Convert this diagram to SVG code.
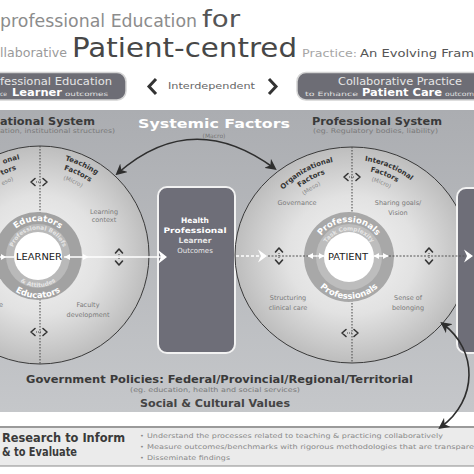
<svg xmlns="http://www.w3.org/2000/svg" width="474" height="474" viewBox="0 0 474 474">
<style>
text{font-family:"DejaVu Sans","Liberation Sans",sans-serif}
.b{font-weight:bold}
.chev{fill:none;stroke:#333;stroke-width:1.6;stroke-linecap:round;stroke-linejoin:round}
.dotl{fill:none;stroke:#444;stroke-width:1;stroke-dasharray:1 1}
.lbl{font-size:6.5px;fill:#7a7a7a;text-anchor:middle}
.fac{font-size:7px;font-weight:bold;fill:#333}
.mic{font-size:5.8px;fill:#8a8a8a}
.ring1{font-size:8.5px;font-weight:bold;fill:#fff}
.ring2{font-size:5.8px;font-weight:bold;fill:#e6e6e6}
.wh{fill:#fff}
.pill{fill:#6d6d75;stroke:#d4d4d4;stroke-width:1.5}
.box{fill:#6e6e78;stroke:#f2f2f2;stroke-width:2}
.bul{font-size:6.5px;fill:#8a8a8a}
.arr{fill:none;stroke:#2e2e2e;stroke-width:1.6}
</style>
<defs>
<linearGradient id="panelG" x1="0" y1="0" x2="0" y2="1">
<stop offset="0" stop-color="#abadb1"/><stop offset="1" stop-color="#c5c7ca"/>
</linearGradient>
<radialGradient id="circG" cx="0.5" cy="0.5" r="0.5">
<stop offset="0" stop-color="#f4f4f4"/><stop offset="0.55" stop-color="#e2e2e2"/><stop offset="1" stop-color="#bdbdbd"/>
</radialGradient>
<marker id="ah" viewBox="0 0 10 10" refX="7" refY="5" markerWidth="7" markerHeight="7" orient="auto-start-reverse" markerUnits="strokeWidth">
<path d="M0,0 L10,5 L0,10 L3,5 z" fill="#2e2e2e"/>
</marker>
<g id="dh"><path class="chev" d="M-4,-3.5 L-8,0 L-4,3.5 M4,-3.5 L8,0 L4,3.5"/><path class="dotl" d="M-3,0 H3"/></g>
<g id="dv"><path class="chev" d="M-3.5,-4 L0,-8 L3.5,-4 M-3.5,4 L0,8 L3.5,4"/><path class="dotl" d="M0,-3 V3"/></g>
<path id="L97" d="M -58,255 A 98 98 0 0 1 138,255"/>
<path id="L88" d="M -48.5,255 A 88.5 88.5 0 0 1 128.5,255"/>
<path id="L78" d="M -39,255 A 79 79 0 0 1 119,255"/>
<path id="R94" d="M 257,255 A 95 95 0 0 1 447,255"/>
<path id="R87" d="M 266.5,255 A 85.5 85.5 0 0 1 437.5,255"/>
<path id="R78" d="M 275.5,255 A 76.5 76.5 0 0 1 428.5,255"/>
<path id="LT35" d="M 3,256 A 35 35 0 0 1 73,256"/>
<path id="LB42" d="M -4,256 A 42 42 0 0 0 80,256"/>
<path id="LT26" d="M 11.5,256 A 26.5 26.5 0 0 1 64.5,256"/>
<path id="LB31" d="M 7,256 A 31 31 0 0 0 69,256"/>
<path id="RT35" d="M 314,257 A 35 35 0 0 1 384,257"/>
<path id="RB42" d="M 307,257 A 42 42 0 0 0 391,257"/>
<path id="RT26" d="M 322.5,257 A 26.5 26.5 0 0 1 375.5,257"/>
</defs>

<rect x="0" y="0" width="474" height="474" fill="#fff"/>

<g id="title">
<text x="0" y="27" font-size="17" fill="#8c8c8c" textLength="197" lengthAdjust="spacingAndGlyphs">professional Education</text>
<text x="202" y="27" font-size="23" fill="#555" textLength="38" lengthAdjust="spacingAndGlyphs">for</text>
<text x="0" y="57" font-size="12" fill="#9a9a9a" textLength="67" lengthAdjust="spacingAndGlyphs">llaborative</text>
<text x="72" y="57" font-size="27" fill="#474747" textLength="225" lengthAdjust="spacingAndGlyphs">Patient-centred</text>
<text x="302" y="57" font-size="11" fill="#a6a6a6" textLength="55" lengthAdjust="spacingAndGlyphs">Practice:</text>
<text x="360" y="57" font-size="11" fill="#555" textLength="114" lengthAdjust="spacingAndGlyphs">An Evolving Fram</text>
</g>

<g id="header-left">
<rect class="pill" x="-20" y="72.5" width="146" height="27.5" rx="9"/>
<text x="0" y="85" font-size="10" fill="#e6e6e6" textLength="112" lengthAdjust="spacingAndGlyphs">fessional Education</text>
<text x="0" y="96" font-size="6" fill="#e0e0e0">ce</text>
<text x="12" y="96" font-size="10" class="b" fill="#fff" textLength="50" lengthAdjust="spacingAndGlyphs">Learner</text>
<text x="65" y="96" font-size="6" fill="#e0e0e0" textLength="43" lengthAdjust="spacingAndGlyphs">outcomes</text>
</g>

<g id="header-mid">
<path d="M156,79 L149,86.5 L156,94" fill="none" stroke="#333" stroke-width="3"/>
<text x="168" y="89" font-size="9.5" fill="#666" textLength="87" lengthAdjust="spacingAndGlyphs">Interdependent</text>
<path d="M269,79 L276,86.5 L269,94" fill="none" stroke="#333" stroke-width="3"/>
</g>

<g id="header-right">
<rect class="pill" x="297" y="72.5" width="200" height="27.5" rx="9"/>
<text x="338" y="85" font-size="10" fill="#e6e6e6" textLength="124" lengthAdjust="spacingAndGlyphs">Collaborative Practice</text>
<text x="305" y="96" font-size="6" fill="#e0e0e0" textLength="53" lengthAdjust="spacingAndGlyphs">to Enhance</text>
<text x="362" y="96" font-size="10" class="b" fill="#fff" textLength="80" lengthAdjust="spacingAndGlyphs">Patient Care</text>
<text x="445" y="96" font-size="6" fill="#e0e0e0" textLength="29" lengthAdjust="spacingAndGlyphs">outcom</text>
</g>

<g id="panel">
<rect x="0" y="110" width="474" height="302" fill="url(#panelG)"/>
</g>

<g id="educational-system">
<text x="0" y="125" font-size="10.5" class="b" fill="#3a3a3a" textLength="95" lengthAdjust="spacingAndGlyphs">ational System</text>
<text x="0" y="133" font-size="6.5" fill="#7a7a7a" textLength="115" lengthAdjust="spacingAndGlyphs">ation, institutional structures)</text>
</g>

<g id="systemic-factors">
<text x="138" y="128" font-size="13" class="b" fill="#fff" textLength="152" lengthAdjust="spacingAndGlyphs">Systemic Factors</text>
<text x="214" y="138" font-size="6" fill="#777" text-anchor="middle">(Macro)</text>
</g>

<g id="professional-system">
<text x="312" y="125" font-size="10.5" class="b" fill="#3a3a3a" textLength="130" lengthAdjust="spacingAndGlyphs">Professional System</text>
<text x="313" y="133" font-size="6.5" fill="#7a7a7a" textLength="125" lengthAdjust="spacingAndGlyphs">(eg. Regulatory bodies, liability)</text>
</g>

<g id="learner-circle">
<circle cx="40" cy="255" r="109" fill="url(#circG)" stroke="#3a3a3a" stroke-width="1"/>
<line x1="40" y1="146" x2="40" y2="364" stroke="#444" stroke-width="1" stroke-dasharray="1.5 1.5"/>
<text class="fac"><textPath href="#L97" startOffset="40.6%" text-anchor="middle">onal</textPath></text>
<text class="fac"><textPath href="#L88" startOffset="38.6%" text-anchor="middle">tors</textPath></text>
<text class="mic"><textPath href="#L78" startOffset="36.7%" text-anchor="middle">eso)</textPath></text>
<text class="fac"><textPath href="#L97" startOffset="63.9%" text-anchor="middle">Teaching</textPath></text>
<text class="fac"><textPath href="#L88" startOffset="63.9%" text-anchor="middle">Factors</textPath></text>
<text class="mic"><textPath href="#L78" startOffset="63.5%" text-anchor="middle">(Micro)</textPath></text>
<text class="lbl" x="104" y="214">Learning</text>
<text class="lbl" x="104" y="222">context</text>
<text class="lbl" x="88" y="307">Faculty</text>
<text class="lbl" x="88" y="317">development</text>
<text class="lbl" x="1" y="307" text-anchor="start">e</text>
<use href="#dh" x="39" y="182"/>
<use href="#dh" x="39" y="332"/>
<use href="#dv" x="119" y="257"/>
<circle cx="38" cy="256" r="44" fill="#a2a2a2"/>
<circle cx="38" cy="256" r="32" fill="#b9b9b9"/>
<circle cx="38" cy="256" r="24" fill="#fff"/>
<text class="ring1"><textPath href="#LT35" startOffset="50%" text-anchor="middle">Educators</textPath></text>
<text class="ring1"><textPath href="#LB42" startOffset="50%" text-anchor="middle">Educators</textPath></text>
<text class="ring2"><textPath href="#LT26" startOffset="50%" text-anchor="middle">Professional Beliefs</textPath></text>
<text class="ring2"><textPath href="#LB31" startOffset="50%" text-anchor="middle">&amp; Attitudes</textPath></text>
<text x="39" y="260" font-size="8.5" fill="#222" text-anchor="middle" textLength="46" lengthAdjust="spacingAndGlyphs">LEARNER</text>
</g>

<g id="outcomes-box">
<rect class="box" x="158" y="187" width="77" height="166" rx="9"/>
<text x="195" y="223" font-size="7.5" class="b" fill="#fff" text-anchor="middle">Health</text>
<text x="195" y="233" font-size="7.5" class="b" fill="#fff" text-anchor="middle" textLength="63" lengthAdjust="spacingAndGlyphs">Professional</text>
<text x="195" y="243" font-size="7.5" class="b" fill="#e8e8e8" text-anchor="middle">Learner</text>
<text x="195" y="253" font-size="7" fill="#e8e8e8" text-anchor="middle">Outcomes</text>
</g>

<g id="patient-circle">
<ellipse cx="352" cy="255" rx="117" ry="108" fill="url(#circG)" stroke="#3a3a3a" stroke-width="1"/>
<line x1="352" y1="147" x2="352" y2="363" stroke="#444" stroke-width="1" stroke-dasharray="1.5 1.5"/>
<text class="fac"><textPath href="#R94" startOffset="33.9%" text-anchor="middle">Organizational</textPath></text>
<text class="fac"><textPath href="#R87" startOffset="34.4%" text-anchor="middle">Factors</textPath></text>
<text class="mic"><textPath href="#R78" startOffset="32.5%" text-anchor="middle">(Meso)</textPath></text>
<text class="fac"><textPath href="#R94" startOffset="62.8%" text-anchor="middle">Interactional</textPath></text>
<text class="fac"><textPath href="#R87" startOffset="62.3%" text-anchor="middle">Factors</textPath></text>
<text class="mic"><textPath href="#R78" startOffset="62.3%" text-anchor="middle">(Micro)</textPath></text>
<text class="lbl" x="297" y="205">Governance</text>
<text class="lbl" x="398" y="205">Sharing goals/</text>
<text class="lbl" x="398" y="215">Vision</text>
<text class="lbl" x="288" y="300">Structuring</text>
<text class="lbl" x="288" y="310">clinical care</text>
<text class="lbl" x="408" y="300">Sense of</text>
<text class="lbl" x="408" y="310">belonging</text>
<use href="#dh" x="352" y="177"/>
<use href="#dh" x="350" y="333"/>
<use href="#dv" x="279" y="256"/>
<use href="#dv" x="429" y="256"/>
<circle cx="349" cy="257" r="45" fill="#a8a8a8"/>
<circle cx="349" cy="257" r="33" fill="#bdbdbd"/>
<circle cx="349" cy="257" r="25" fill="#fff"/>
<text class="ring1"><textPath href="#RT35" startOffset="50%" text-anchor="middle">Professionals</textPath></text>
<text class="ring1"><textPath href="#RB42" startOffset="50%" text-anchor="middle">Professionals</textPath></text>
<text class="ring2"><textPath href="#RT26" startOffset="50%" text-anchor="middle">Task Complexity</textPath></text>
<text x="348" y="260" font-size="8" fill="#222" text-anchor="middle" textLength="40" lengthAdjust="spacingAndGlyphs">PATIENT</text>
</g>

<g id="right-box">
<rect class="box" x="457" y="188" width="40" height="165" rx="9"/>
</g>

<g id="gov-policies">
<text x="26" y="383" font-size="10.5" class="b" fill="#3a3a3a" textLength="387" lengthAdjust="spacingAndGlyphs">Government Policies: Federal/Provincial/Regional/Territorial</text>
<text x="215" y="392" font-size="6.5" fill="#7a7a7a" text-anchor="middle" textLength="170" lengthAdjust="spacingAndGlyphs">(eg. education, health and social services)</text>
</g>

<g id="social-values">
<text x="140" y="407" font-size="11" class="b" fill="#444" textLength="150" lengthAdjust="spacingAndGlyphs">Social &amp; Cultural Values</text>
</g>

<g id="research">
<rect x="0" y="427" width="474" height="39" fill="#ebebeb"/>
<line x1="0" y1="427" x2="474" y2="427" stroke="#9a9a9a" stroke-width="2"/>
<line x1="0" y1="466" x2="474" y2="466" stroke="#8a8a8a" stroke-width="1"/>
<text x="2" y="442" font-size="12" class="b" fill="#3a3a3a" textLength="123" lengthAdjust="spacingAndGlyphs">Research to Inform</text>
<text x="2" y="456" font-size="12" class="b" fill="#3a3a3a" textLength="75" lengthAdjust="spacingAndGlyphs">&amp; to Evaluate</text>
<text class="bul" x="140" y="438">•</text>
<text class="bul" x="147" y="438" textLength="296" lengthAdjust="spacingAndGlyphs">Understand the processes related to teaching &amp; practicing collaboratively</text>
<text class="bul" x="140" y="449">•</text>
<text class="bul" x="147" y="449" textLength="327" lengthAdjust="spacingAndGlyphs">Measure outcomes/benchmarks with rigorous methodologies that are transpare</text>
<text class="bul" x="140" y="460">•</text>
<text class="bul" x="147" y="460" textLength="83" lengthAdjust="spacingAndGlyphs">Disseminate findings</text>
</g>

<g id="connectors">
<line x1="0" y1="257" x2="14" y2="257" stroke="#fff" stroke-width="1.5"/>
<path class="wh" d="M1,254 L6,257 L1,260 z"/>
<line x1="64" y1="257" x2="161" y2="257" stroke="#fff" stroke-width="1.5"/>
<path class="wh" d="M70,254 L64.5,257 L70,260 z"/>
<path class="wh" d="M83,254 L88.5,257 L83,260 z"/>
<path class="wh" d="M158,250 L167,257 L158,264 L161,257 z"/>
<line x1="236" y1="256" x2="262" y2="256" stroke="#fff" stroke-width="1.5" stroke-dasharray="3 2"/>
<path class="wh" d="M258,249.5 L267,256 L258,262.5 L261,256 z"/>
<line x1="268" y1="256" x2="318" y2="256" stroke="#555" stroke-width="1" stroke-dasharray="2 1.5"/>
<line x1="308" y1="256" x2="324" y2="256" stroke="#fff" stroke-width="1.5"/>
<path class="wh" d="M313,253 L307.5,256 L313,259 z"/>
<path class="wh" d="M319,253 L324.5,256 L319,259 z"/>
<line x1="374" y1="256" x2="388" y2="256" stroke="#fff" stroke-width="1.5"/>
<path class="wh" d="M379,253 L373.5,256 L379,259 z"/>
<path class="wh" d="M383,253 L388.5,256 L383,259 z"/>
<line x1="389" y1="256" x2="466" y2="256" stroke="#555" stroke-width="1" stroke-dasharray="2 1.5"/>
<path class="wh" d="M464,249.5 L473,256 L464,262.5 L467,256 z"/>
<path class="arr" d="M118,173 Q192,108 274,168" marker-start="url(#ah)" marker-end="url(#ah)"/>
<path class="arr" d="M443,324 C478,350 478,400 441,427" marker-start="url(#ah)" marker-end="url(#ah)"/>
</g>
</svg>
